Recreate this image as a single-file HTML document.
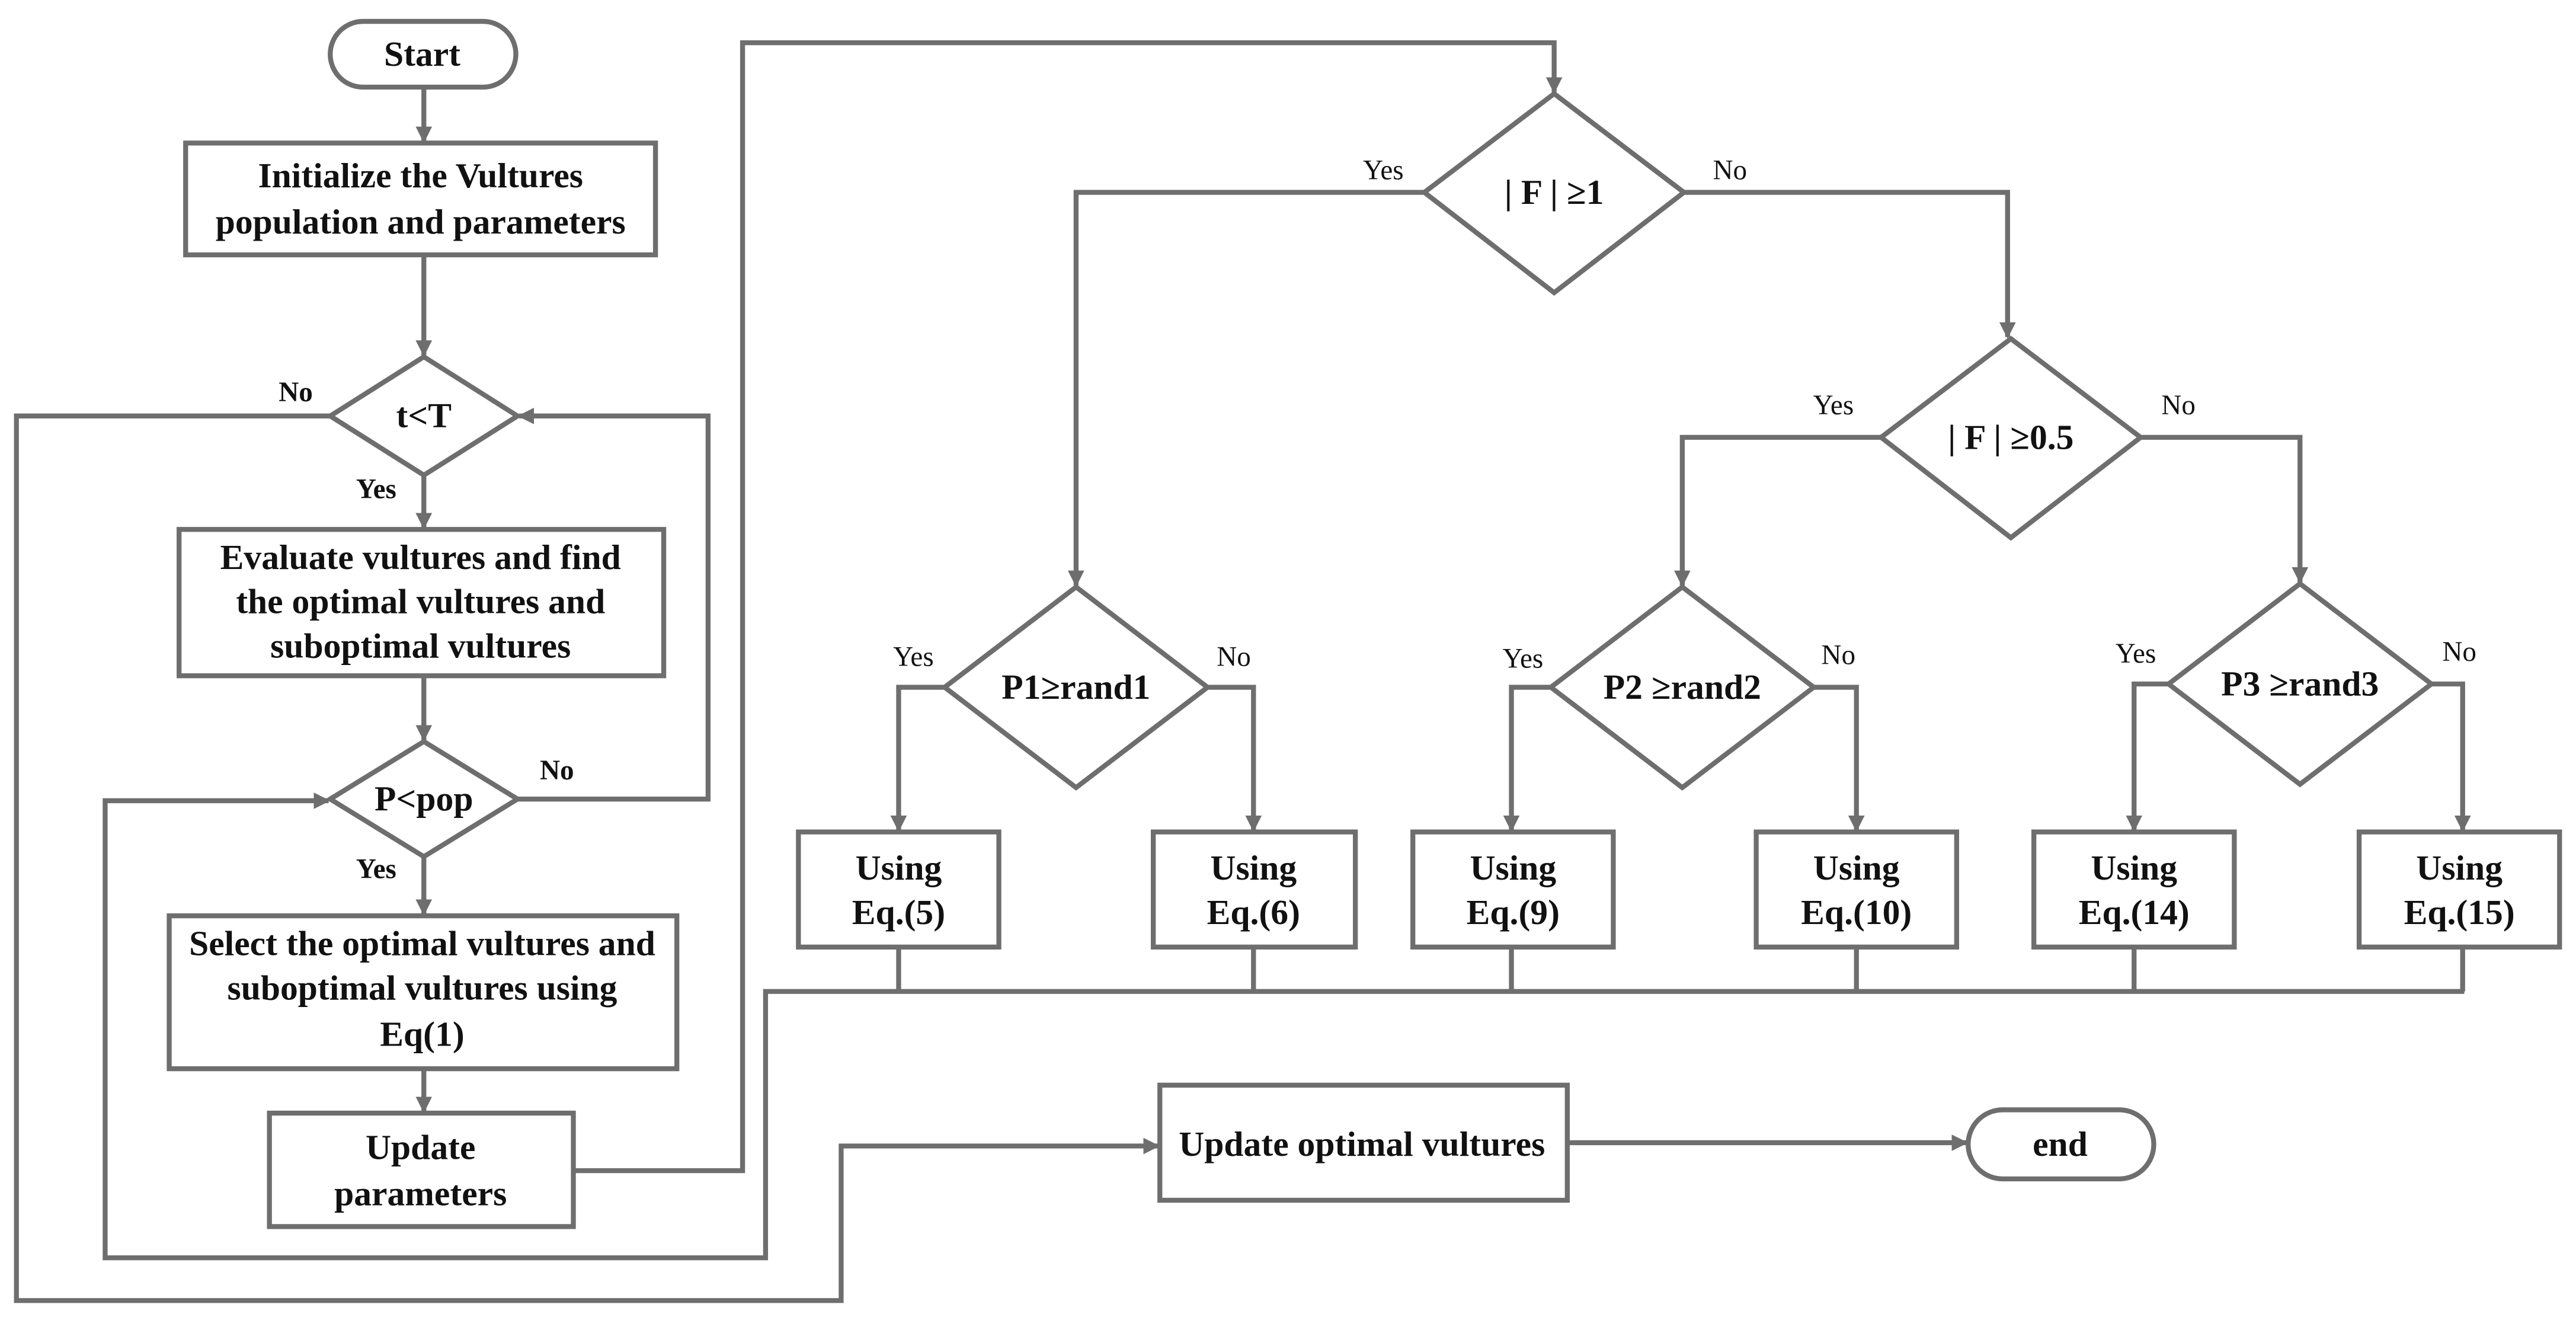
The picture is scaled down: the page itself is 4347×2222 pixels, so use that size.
<!DOCTYPE html>
<html><head><meta charset="utf-8"><style>html,body{margin:0;padding:0;background:#fff}svg{display:block}</style></head>
<body>
<svg width="4347" height="2222" viewBox="0 0 1568 801" preserveAspectRatio="none" xmlns="http://www.w3.org/2000/svg">
<defs>
<marker id="a" markerWidth="10" markerHeight="10" refX="9" refY="5" orient="auto" markerUnits="userSpaceOnUse"><path d="M0,0 L10,5 L0,10 z" fill="#6e6e6e"/></marker>
</defs>
<g fill="none" stroke="#6e6e6e" stroke-width="3">
<rect x="201" y="13" width="113" height="40" rx="20"/>
<rect x="113" y="87" width="286" height="68"/>
<polygon points="258,217 315,253 258,289 201,253"/>
<rect x="109" y="322" width="295" height="89"/>
<polygon points="258,451 315,486 258,521 201,486"/>
<rect x="103" y="557" width="309" height="93"/>
<rect x="164" y="677" width="185" height="69"/>
<polygon points="946,57 1025,117 946,178 867,117"/>
<polygon points="1224,206 1303,266 1224,327 1145,266"/>
<polygon points="655,357 735,418 655,479 575,418"/>
<polygon points="1024,357 1104,418 1024,479 944,418"/>
<polygon points="1400,355 1480,416 1400,477 1320,416"/>
<rect x="486" y="506" width="122" height="70"/>
<rect x="702" y="506" width="123" height="70"/>
<rect x="860" y="506" width="122" height="70"/>
<rect x="1069" y="506" width="122" height="70"/>
<rect x="1238" y="506" width="122" height="70"/>
<rect x="1436" y="506" width="122" height="70"/>
<rect x="706" y="660" width="248" height="70"/>
<rect x="1198" y="675" width="113" height="42" rx="21"/>
<path d="M258,53 V86" marker-end="url(#a)"/>
<path d="M258,155 V216" marker-end="url(#a)"/>
<path d="M258,289 V321" marker-end="url(#a)"/>
<path d="M258,411 V450" marker-end="url(#a)"/>
<path d="M258,521 V556" marker-end="url(#a)"/>
<path d="M258,650 V676" marker-end="url(#a)"/>
<path d="M315,486 H431 V253 H316" marker-end="url(#a)"/>
<path d="M201,253 H10 V791 H512 V697 H705" marker-end="url(#a)"/>
<path d="M349,712 H452 V26 H946 V56" marker-end="url(#a)"/>
<path d="M1500,603 H466 V765 H64 V487 H200" marker-end="url(#a)"/>
<path d="M867,117 H655 V356" marker-end="url(#a)"/>
<path d="M1025,117 H1222 V205" marker-end="url(#a)"/>
<path d="M1145,266 H1024 V356" marker-end="url(#a)"/>
<path d="M1303,266 H1400 V354" marker-end="url(#a)"/>
<path d="M575,418 H547 V505" marker-end="url(#a)"/>
<path d="M735,418 H763 V505" marker-end="url(#a)"/>
<path d="M944,418 H920 V505" marker-end="url(#a)"/>
<path d="M1104,418 H1130 V505" marker-end="url(#a)"/>
<path d="M1320,416 H1299 V505" marker-end="url(#a)"/>
<path d="M1480,416 H1499 V505" marker-end="url(#a)"/>
<path d="M547,576 V603 M763,576 V603 M920,576 V603 M1130,576 V603 M1299,576 V603 M1499,576 V603"/>
<path d="M954,695 H1197" marker-end="url(#a)"/>
</g>
<g font-family="Liberation Serif, serif" font-weight="bold" font-size="21.5" fill="#111" text-anchor="middle">
<text x="257" y="40">Start</text>
<text x="256" y="114">Initialize the Vultures</text>
<text x="256" y="142">population and parameters</text>
<text x="258" y="260">t&lt;T</text>
<text x="256" y="346">Evaluate vultures and find</text>
<text x="256" y="373">the optimal vultures and</text>
<text x="256" y="400">suboptimal vultures</text>
<text x="258" y="493">P&lt;pop</text>
<text x="257" y="581">Select the optimal vultures and</text>
<text x="257" y="608">suboptimal vultures using</text>
<text x="257" y="636">Eq(1)</text>
<text x="256" y="705">Update</text>
<text x="256" y="733">parameters</text>
<text x="946" y="124">| F | ≥1</text>
<text x="1224" y="273">| F | ≥0.5</text>
<text x="655" y="425">P1≥rand1</text>
<text x="1024" y="425">P2 ≥rand2</text>
<text x="1400" y="423">P3 ≥rand3</text>
<text x="547" y="535">Using</text><text x="547" y="562">Eq.(5)</text>
<text x="763" y="535">Using</text><text x="763" y="562">Eq.(6)</text>
<text x="921" y="535">Using</text><text x="921" y="562">Eq.(9)</text>
<text x="1130" y="535">Using</text><text x="1130" y="562">Eq.(10)</text>
<text x="1299" y="535">Using</text><text x="1299" y="562">Eq.(14)</text>
<text x="1497" y="535">Using</text><text x="1497" y="562">Eq.(15)</text>
<text x="829" y="703">Update optimal vultures</text>
<text x="1254" y="703">end</text>
</g>
<g font-family="Liberation Serif, serif" font-size="17" fill="#111" text-anchor="middle">
<text x="180" y="244" font-weight="bold">No</text>
<text x="229" y="303" font-weight="bold">Yes</text>
<text x="339" y="474" font-weight="bold">No</text>
<text x="229" y="534" font-weight="bold">Yes</text>
<text x="842" y="109">Yes</text>
<text x="1053" y="109">No</text>
<text x="1116" y="252">Yes</text>
<text x="1326" y="252">No</text>
<text x="556" y="405">Yes</text>
<text x="751" y="405">No</text>
<text x="927" y="406">Yes</text>
<text x="1119" y="404">No</text>
<text x="1300" y="403">Yes</text>
<text x="1497" y="402">No</text>
</g>
</svg>
</body></html>
